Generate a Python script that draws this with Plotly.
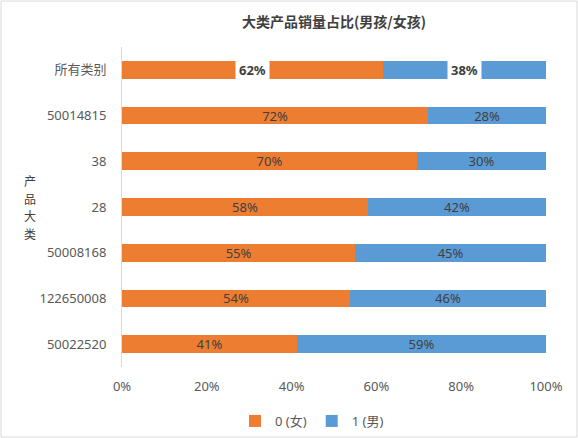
import plotly.graph_objects as go

categories = ["所有类别", "50014815", "38", "28", "50008168", "122650008", "50022520"]
female = [0.616, 0.722, 0.696, 0.580, 0.550, 0.538, 0.413]
male = [0.384, 0.278, 0.304, 0.420, 0.450, 0.462, 0.587]
series_names = ["0 (女)", "1 (男)"]
tick_vals = [0, 0.2, 0.4, 0.6, 0.8, 1.0]
tick_text = ["0%", "20%", "40%", "60%", "80%", "100%"]
y_title_chars = ["产", "品", "大", "类"]

ORANGE = "#ED7D31"
BLUE = "#5B9BD5"
W, H = 578, 438
ML, MR, MT, MB = 122, 32, 47, 71
PW, PH = W - ML - MR, H - MT - MB
FONT = "Noto Sans, Noto Sans CJK SC, sans-serif"

def labels(vals):
    return ["" if i == 0 else f"{round(v*100)}%" for i, v in enumerate(vals)]

fig = go.Figure()
for vals, name, color in [(female, series_names[0], ORANGE), (male, series_names[1], BLUE)]:
    fig.add_trace(go.Bar(
        y=categories, x=vals, name=name, orientation="h",
        marker=dict(color=color, line=dict(width=0)),
        text=labels(vals), textposition="inside", insidetextanchor="middle",
        constraintext="none",
        textfont=dict(color="#404040", size=13, family=FONT), width=0.39,
    ))

# labels for the first category with white background boxes
for xc, v in [(female[0] / 2, female[0]), (female[0] + male[0] / 2, male[0])]:
    fig.add_annotation(x=xc, y=categories[0], xref="x", yref="y",
                       text=f"<b>{round(v*100)}%</b>", showarrow=False,
                       bgcolor="white", borderpad=3,
                       font=dict(color="#404040", size=13, family=FONT))

# y-axis title, vertical stacked characters
for i, ch in enumerate(y_title_chars):
    fig.add_annotation(x=-92 / PW, y=0.5 + (1.5 - i) * 17.5 / PH, xref="paper", yref="paper",
                       text=ch, showarrow=False,
                       font=dict(color="#404040", size=12, family="Noto Sans CJK SC"),
                       xanchor="center", yanchor="middle")

# chart border
fig.add_shape(type="rect", xref="paper", yref="paper",
              x0=-(ML - 1) / PW, x1=1 + (MR - 1) / PW,
              y0=-(MB - 1) / PH, y1=1 + (MT - 1) / PH,
              line=dict(color="#D9D9D9", width=1))

fig.update_layout(
    width=W, height=H, barmode="stack",
    margin=dict(l=ML, r=MR, t=MT, b=MB, autoexpand=False),
    paper_bgcolor="white", plot_bgcolor="white",
    title=dict(text="<b>大类产品销量占比(男孩/女孩)</b>", x=0.5, xref="paper", y=1 - 22 / H, yanchor="middle",
               font=dict(size=14, color="#404040", family="Noto Sans CJK SC")),
    font=dict(family=FONT, color="#595959", size=13),
    xaxis=dict(range=[0, 1], tickvals=tick_vals, ticktext=tick_text, showgrid=False,
               zeroline=False, showline=False, ticks="", tickfont=dict(size=13, color="#595959"),
               ticklabelstandoff=10),
    yaxis=dict(categoryorder="array", categoryarray=categories, autorange="reversed",
               showgrid=False, zeroline=False, showline=True, linecolor="#D9D9D9", linewidth=1,
               ticks="", ticklabelstandoff=12, tickfont=dict(size=13, color="#595959")),
    legend=dict(orientation="h", x=0.5 - 22 / PW, xanchor="center", yref="container", y=1 - 421 / H,
                yanchor="middle", font=dict(size=13, color="#595959"), itemwidth=30,
                traceorder="normal"),
    showlegend=True,
)

fig.write_html("out.html")
